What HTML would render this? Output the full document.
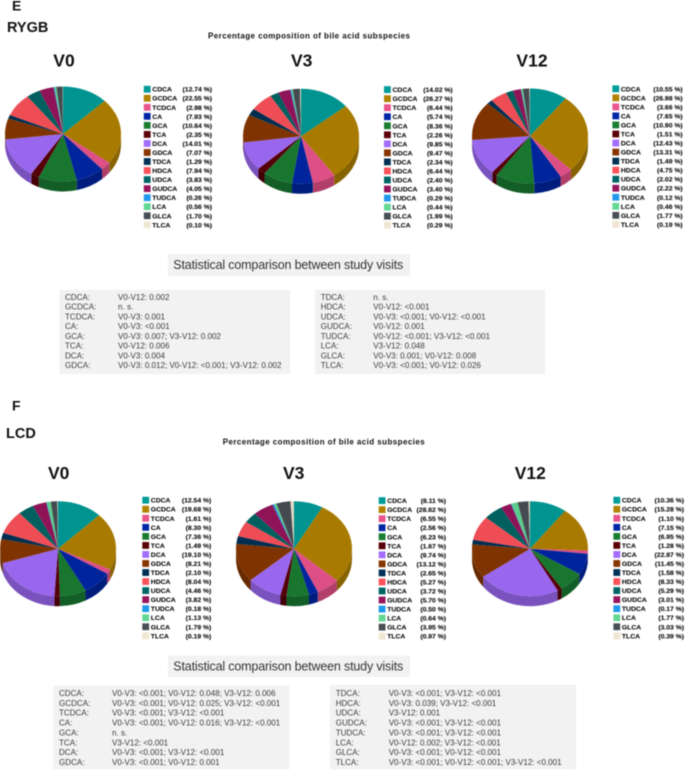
<!DOCTYPE html>
<html lang="en">
<head>
<meta charset="utf-8">
<title>Percentage composition of bile acid subspecies</title>
<style>
html,body{margin:0;padding:0;background:#fff;width:685px;height:770px;overflow:hidden}
svg{display:block;font-family:"Liberation Sans",Arial,sans-serif;filter:blur(.4px)}
.panel{font-weight:bold;fill:#111}
.h{font-weight:bold;font-size:8px;fill:#111}
.visit{font-weight:bold;font-size:17.5px;fill:#111;text-anchor:middle}
.st{font-size:12.5px;fill:#333}
.r{font-size:8.05px;fill:#3c3c3c}
.lg{font-size:6.8px;font-weight:bold;fill:#111;stroke:#111;stroke-width:.12px}
</style>
</head>
<body>
<svg id="figure" xmlns="http://www.w3.org/2000/svg" width="685" height="770" viewBox="0 0 685 770">
  <rect width="685" height="770" fill="#fff"/>

  <text class="panel" x="12" y="10.5" font-size="14">E</text>
  <text class="panel" x="7" y="32" font-size="14.5">RYGB</text>
  <text class="h" x="208" y="38.7" textLength="202">Percentage composition of bile acid subspecies</text>
  <text class="visit" x="64" y="66.7">V0</text>
  <text class="visit" x="301.7" y="66.7">V3</text>
  <text class="visit" x="532" y="66.7">V12</text>

  <text class="panel" x="12" y="410.7" font-size="14">F</text>
  <text class="panel" x="6" y="438" font-size="14.5">LCD</text>
  <text class="h" x="222.7" y="444.7" textLength="202">Percentage composition of bile acid subspecies</text>
  <text class="visit" x="58.7" y="479">V0</text>
  <text class="visit" x="293.7" y="479">V3</text>
  <text class="visit" x="530.3" y="479">V12</text>

  <g id="charts"></g>

  <!-- RYGB statistics -->
  <rect x="168" y="254" width="242" height="22" fill="#f2f2f2"/>
  <text class="st" x="173.3" y="269" textLength="230">Statistical comparison between study visits</text>
  <rect x="59.3" y="290" width="230.7" height="84" fill="#f2f2f2"/>
  <rect x="315" y="290" width="230" height="84" fill="#f2f2f2"/>
  <g>
    <text class="r" y="300"><tspan x="65">CDCA:</tspan><tspan x="118">V0-V12: 0.002</tspan></text>
    <text class="r" y="309.7"><tspan x="65">GCDCA:</tspan><tspan x="118">n. s.</tspan></text>
    <text class="r" y="319.4"><tspan x="65">TCDCA:</tspan><tspan x="118">V0-V3: 0.001</tspan></text>
    <text class="r" y="329.1"><tspan x="65">CA:</tspan><tspan x="118">V0-V3: &lt;0.001</tspan></text>
    <text class="r" y="338.8"><tspan x="65">GCA:</tspan><tspan x="118">V0-V3: 0.007; V3-V12: 0.002</tspan></text>
    <text class="r" y="348.6"><tspan x="65">TCA:</tspan><tspan x="118">V0-V12: 0.006</tspan></text>
    <text class="r" y="358.3"><tspan x="65">DCA:</tspan><tspan x="118">V0-V3: 0.004</tspan></text>
    <text class="r" y="368"><tspan x="65">GDCA:</tspan><tspan x="118">V0-V3: 0.012; V0-V12: &lt;0.001; V3-V12: 0.002</tspan></text>
  </g>
  <g>
    <text class="r" y="300"><tspan x="320.7">TDCA:</tspan><tspan x="373.3">n. s.</tspan></text>
    <text class="r" y="309.7"><tspan x="320.7">HDCA:</tspan><tspan x="373.3">V0-V12: &lt;0.001</tspan></text>
    <text class="r" y="319.4"><tspan x="320.7">UDCA:</tspan><tspan x="373.3">V0-V3: &lt;0.001; V0-V12: &lt;0.001</tspan></text>
    <text class="r" y="329.1"><tspan x="320.7">GUDCA:</tspan><tspan x="373.3">V0-V12: 0.001</tspan></text>
    <text class="r" y="338.8"><tspan x="320.7">TUDCA:</tspan><tspan x="373.3">V0-V12: &lt;0.001; V3-V12: &lt;0.001</tspan></text>
    <text class="r" y="348.6"><tspan x="320.7">LCA:</tspan><tspan x="373.3">V3-V12: 0.048</tspan></text>
    <text class="r" y="358.3"><tspan x="320.7">GLCA:</tspan><tspan x="373.3">V0-V3: 0.001; V0-V12: 0.008</tspan></text>
    <text class="r" y="368"><tspan x="320.7">TLCA:</tspan><tspan x="373.3">V0-V3: &lt;0.001; V0-V12: 0.026</tspan></text>
  </g>

  <!-- LCD statistics -->
  <rect x="168" y="655.7" width="242" height="21.3" fill="#f2f2f2"/>
  <text class="st" x="173.3" y="670.7" textLength="230">Statistical comparison between study visits</text>
  <rect x="53.3" y="685.7" width="236" height="83.6" fill="#f2f2f2"/>
  <rect x="330" y="685" width="246" height="84.3" fill="#f2f2f2"/>
  <g>
    <text class="r" y="696"><tspan x="59">CDCA:</tspan><tspan x="112">V0-V3: &lt;0.001; V0-V12: 0.048; V3-V12: 0.006</tspan></text>
    <text class="r" y="705.9"><tspan x="59">GCDCA:</tspan><tspan x="112">V0-V3: &lt;0.001; V0-V12: 0.025; V3-V12: &lt;0.001</tspan></text>
    <text class="r" y="715.7"><tspan x="59">TCDCA:</tspan><tspan x="112">V0-V3: &lt;0.001; V3-V12: &lt;0.001</tspan></text>
    <text class="r" y="725.6"><tspan x="59">CA:</tspan><tspan x="112">V0-V3: &lt;0.001; V0-V12: 0.016; V3-V12: &lt;0.001</tspan></text>
    <text class="r" y="735.4"><tspan x="59">GCA:</tspan><tspan x="112">n. s.</tspan></text>
    <text class="r" y="745.3"><tspan x="59">TCA:</tspan><tspan x="112">V3-V12: &lt;0.001</tspan></text>
    <text class="r" y="755.1"><tspan x="59">DCA:</tspan><tspan x="112">V0-V3: &lt;0.001; V3-V12: &lt;0.001</tspan></text>
    <text class="r" y="765"><tspan x="59">GDCA:</tspan><tspan x="112">V0-V3: &lt;0.001; V0-V12: 0.001</tspan></text>
  </g>
  <g>
    <text class="r" y="696"><tspan x="335.7">TDCA:</tspan><tspan x="388.7">V0-V3: &lt;0.001; V3-V12: &lt;0.001</tspan></text>
    <text class="r" y="705.9"><tspan x="335.7">HDCA:</tspan><tspan x="388.7">V0-V3: 0.039; V3-V12: &lt;0.001</tspan></text>
    <text class="r" y="715.7"><tspan x="335.7">UDCA:</tspan><tspan x="388.7">V3-V12: 0.001</tspan></text>
    <text class="r" y="725.6"><tspan x="335.7">GUDCA:</tspan><tspan x="388.7">V0-V3: &lt;0.001; V3-V12: &lt;0.001</tspan></text>
    <text class="r" y="735.4"><tspan x="335.7">TUDCA:</tspan><tspan x="388.7">V0-V3: &lt;0.001; V3-V12: &lt;0.001</tspan></text>
    <text class="r" y="745.3"><tspan x="335.7">LCA:</tspan><tspan x="388.7">V0-V12: 0.002; V3-V12: &lt;0.001</tspan></text>
    <text class="r" y="755.1"><tspan x="335.7">GLCA:</tspan><tspan x="388.7">V0-V3: &lt;0.001; V0-V12: &lt;0.001</tspan></text>
    <text class="r" y="765"><tspan x="335.7">TLCA:</tspan><tspan x="388.7">V0-V3: &lt;0.001; V0-V12: &lt;0.001; V3-V12: &lt;0.001</tspan></text>
  </g>
</svg>

<script>
const species = ['CDCA','GCDCA','TCDCA','CA','GCA','TCA','DCA','GDCA','TDCA','HDCA','UDCA','GUDCA','TUDCA','LCA','GLCA','TLCA'];
const speciesColors = ['#009490','#a87b00','#dd4f85','#00249c','#18762f','#540008','#9966ee','#7f3300','#002e50','#ee4d55','#005f5f','#8f1457','#1e90e0','#5ccc8c','#444a50','#e2dac6'];

const rygbV0  = [12.74,22.55,2.98,7.93,10.64,2.35,14.01,7.07,1.29,7.94,3.83,4.05,0.26,0.56,1.70,0.10];
const rygbV3  = [14.02,26.27,6.44,5.74,8.36,2.26,9.85,9.47,2.34,6.44,2.40,3.40,0.29,0.44,1.99,0.29];
const rygbV12 = [10.55,26.98,3.66,7.65,10.90,1.51,12.43,13.31,1.49,4.75,2.02,2.22,0.12,0.46,1.77,0.19];
const lcdV0   = [12.54,19.68,1.61,8.30,7.36,1.49,19.10,8.21,2.10,8.04,4.46,3.82,0.18,1.13,1.79,0.19];
const lcdV3   = [8.11,28.62,6.55,2.56,6.23,1.67,9.74,13.12,2.65,5.27,3.72,5.70,0.50,0.64,3.95,0.97];
const lcdV12  = [10.36,15.28,1.10,7.15,6.95,1.28,22.87,11.45,1.58,8.33,5.29,3.01,0.17,1.77,3.03,0.39];

const NS = 'http://www.w3.org/2000/svg';
const RX = 58, RY = 47.5, DEPTH = 10, ROW = 9.04;
const chartsRoot = document.getElementById('charts');

function make(tag, parent, attrs) {
  const el = document.createElementNS(NS, tag);
  for (const k in attrs) el.setAttribute(k, attrs[k]);
  parent.appendChild(el);
  return el;
}
function shade(hex, f) {
  const n = parseInt(hex.slice(1), 16);
  const c = [n >> 16, (n >> 8) & 255, n & 255].map(v => Math.min(255, Math.round(v * f)));
  return 'rgb(' + c.join(',') + ')';
}
function angleScale(values) {
  const total = values.reduce((a, b) => a + b, 0);
  return v => v / total * Math.PI * 2;
}
function px(cx, t) { return cx + RX * Math.sin(t); }
function py(cy, t) { return cy - RY * Math.cos(t); }

function drawPie(parent, id, values, cx, cy) {
  const toAngle = angleScale(values);
  const sides = make('g', parent, {});
  
  
  const tops = make('g', parent, {});
  
  

  let start = 0;
  values.forEach((v, i) => {
    const sweep = toAngle(v);
    const end = start + sweep;
    const large = sweep > Math.PI ? 1 : 0;
    const top = make('path', tops, {
      d: 'M' + cx + ' ' + cy + 'L' + px(cx, start).toFixed(2) + ' ' + py(cy, start).toFixed(2) +
         'A' + RX + ' ' + RY + ' 0 ' + large + ' 1 ' + px(cx, end).toFixed(2) + ' ' + py(cy, end).toFixed(2) + 'Z',
      fill: speciesColors[i]
    });
    
    

    const a = Math.max(start, Math.PI / 2), b = Math.min(end, Math.PI * 1.5);
    if (b > a) {
      const x1 = px(cx, a).toFixed(2), y1 = py(cy, a).toFixed(2);
      const x2 = px(cx, b).toFixed(2), y2 = py(cy, b).toFixed(2);
      const y1b = (py(cy, a) + DEPTH).toFixed(2), y2b = (py(cy, b) + DEPTH).toFixed(2);
      const side = make('path', sides, {
        d: 'M' + x1 + ' ' + y1 + 'A' + RX + ' ' + RY + ' 0 0 1 ' + x2 + ' ' + y2 +
           'L' + x2 + ' ' + y2b + 'A' + RX + ' ' + RY + ' 0 0 0 ' + x1 + ' ' + y1b + 'Z',
        fill: shade(speciesColors[i], 0.8)
      });
      
      
    }
    start = end;
  });
}

function drawLegend(parent, id, values, sx, cy0, vx) {
  const lg = make('g', parent, {});
  
  
  values.forEach((v, i) => {
    const c = cy0 + i * ROW;
    const entry = make('g', lg, {});
    
    
    const sw = make('rect', entry, {x: sx, y: c - 3.4, width: 6.8, height: 6.8, fill: shade(speciesColors[i], 1.06)});
    
    
    const name = make('text', entry, {class: 'lg', x: sx + 8.5, y: c + 2.5});
    
    
    name.textContent = species[i];
    const val = make('text', entry, {class: 'lg', x: vx, y: c + 2.5, 'text-anchor': 'end'});
    
    
    val.textContent = '(' + v.toFixed(2) + ' %)';
  });
}

function drawPanel(id, values, cx, cy, sx, cy0, vx) {
  const g = make('g', chartsRoot, {});
  
  
  drawPie(g, id, values, cx, cy);
  drawLegend(g, id, values, sx, cy0, vx);
}

drawPanel('rygb-v0',  rygbV0,  63,  134,   143.8, 89.2, 212);
drawPanel('rygb-v3',  rygbV3,  301, 136.3, 384,   89.6, 452.7);
drawPanel('rygb-v12', rygbV12, 530, 136,   612.4, 88.8, 682.7);
drawPanel('lcd-v0',   lcdV0,   58,  548.7, 142.3, 500.2, 211.3);
drawPanel('lcd-v3',   lcdV3,   294, 548.7, 378.7, 500.6, 446);
drawPanel('lcd-v12',  lcdV12,  530, 548.7, 613.4, 500.2, 684);
</script>
</body>
</html>
